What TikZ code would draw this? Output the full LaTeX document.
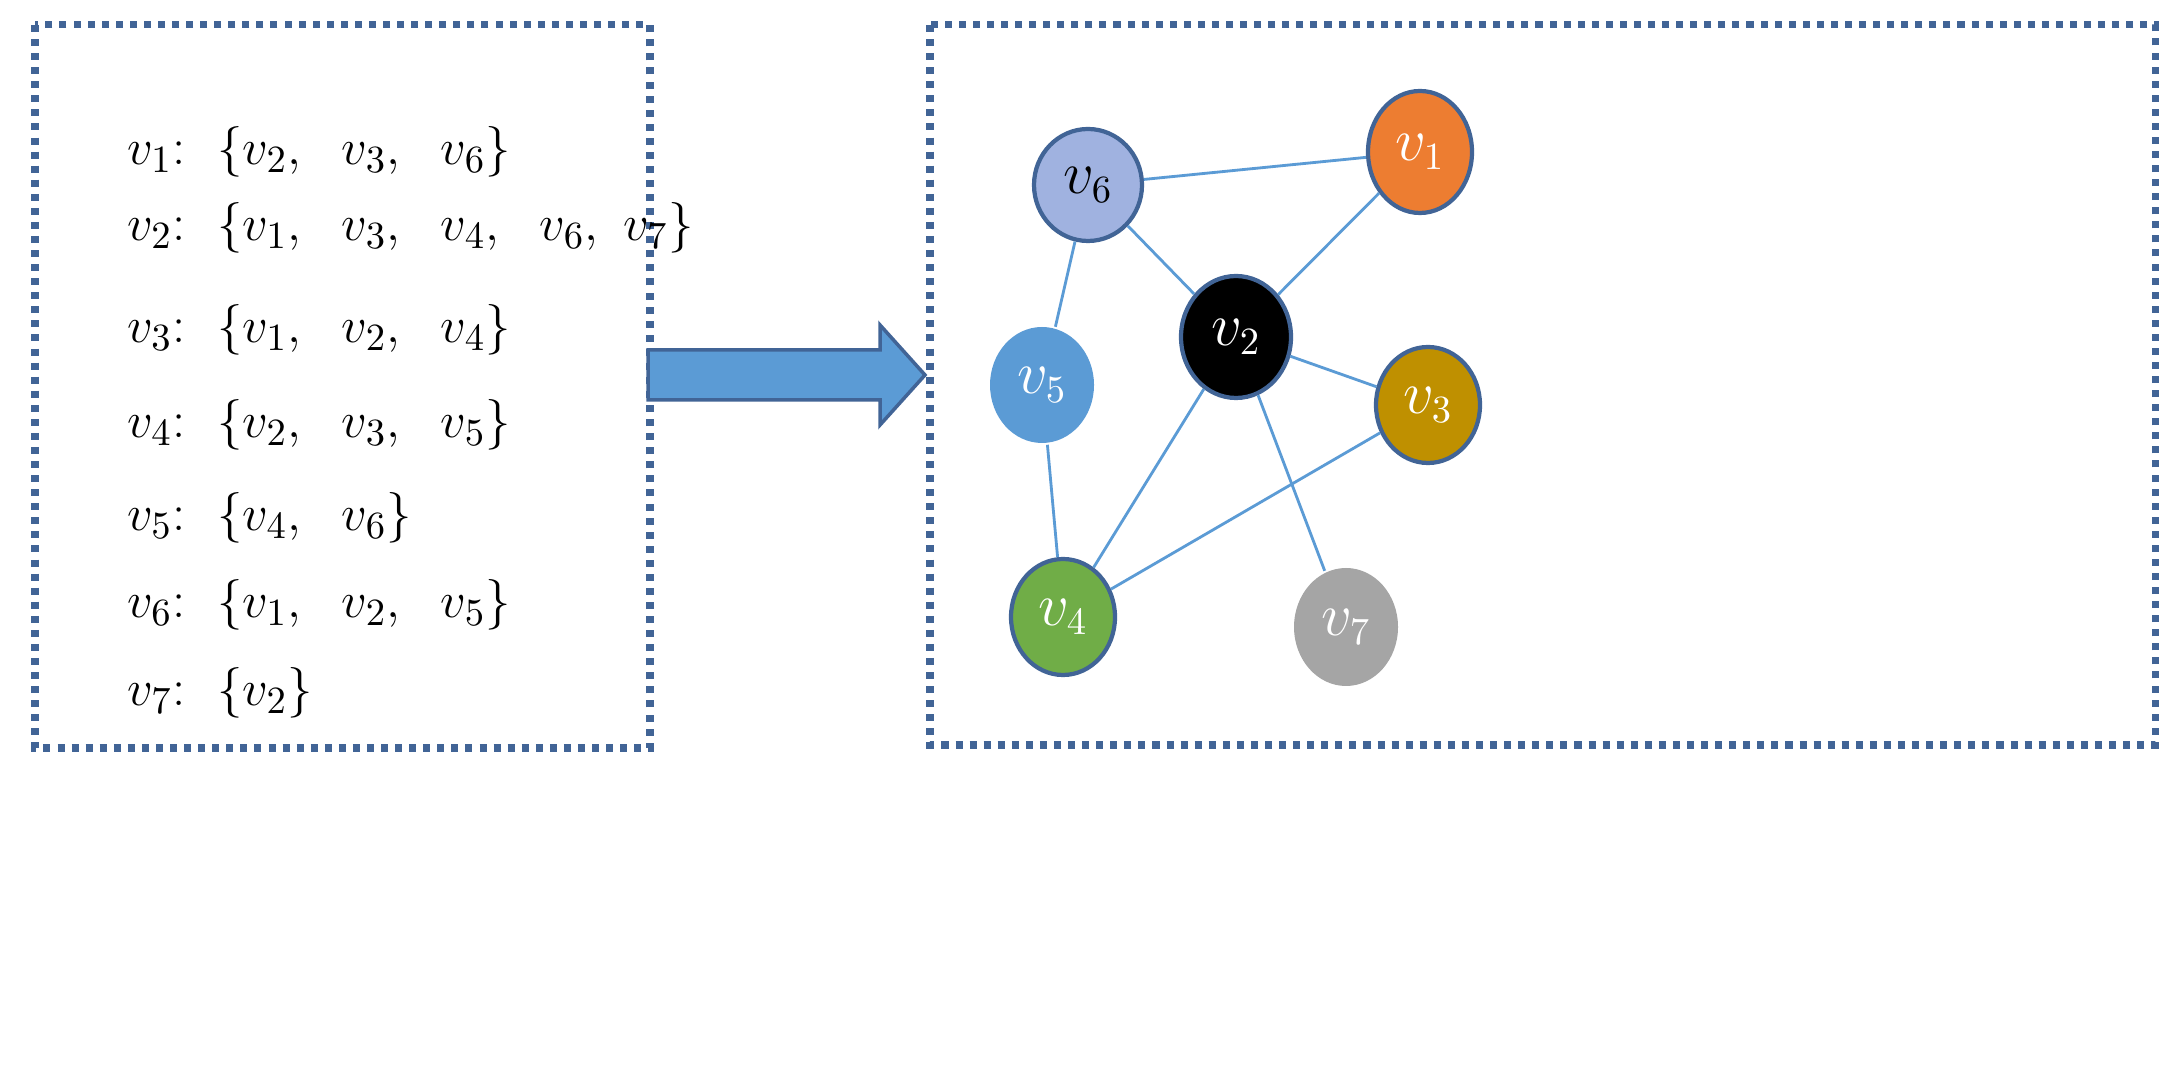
\documentclass[tikz,border=0pt]{standalone}
\usetikzlibrary{shapes.geometric}
\definecolor{bd}{RGB}{65,100,150}
\definecolor{ed}{RGB}{91,155,213}
\definecolor{c6}{RGB}{160,178,224}
\definecolor{c1}{RGB}{237,125,49}
\definecolor{c5}{RGB}{91,155,213}
\definecolor{c3}{RGB}{191,144,0}
\definecolor{c4}{RGB}{112,173,71}
\definecolor{c7}{RGB}{165,165,165}
\begin{document}
\begin{tikzpicture}[x=0.01cm,y=-0.01cm,
 frame/.style={draw=bd,dotted,line width=2pt},
 ln/.style={font=\fontsize{15}{18}\selectfont,anchor=west},
 vx/.style={ellipse,draw=bd,line width=1.2pt,text=white,inner sep=0pt,font=\fontsize{16}{20}\selectfont},
 ed/.style={draw=ed,line width=0.8pt}]
\fill[white] (0,0) rectangle (2182,1074);
\useasboundingbox (0,0) rectangle (2182,1074);
\draw[frame] (35,25) rectangle (650,748);
\draw[frame] (930,25) rectangle (2155,745);
\node[ln] (l1) at (115,152) {$v_1$:\ \ $\{v_2,\ \ v_3,\ \ v_6\}$};
\node[ln] (l2) at (115,228) {$v_2$:\ \ $\{v_1,\ \ v_3,\ \ v_4,\ \ v_6,\ v_7\}$};
\node[ln] (l3) at (115,330) {$v_3$:\ \ $\{v_1,\ \ v_2,\ \ v_4\}$};
\node[ln] (l4) at (115,425) {$v_4$:\ \ $\{v_2,\ \ v_3,\ \ v_5\}$};
\node[ln] (l5) at (115,518) {$v_5$:\ \ $\{v_4,\ \ v_6\}$};
\node[ln] (l6) at (115,605) {$v_6$:\ \ $\{v_1,\ \ v_2,\ \ v_5\}$};
\node[ln] (l7) at (115,693) {$v_7$:\ \ $\{v_2\}$};
\draw[draw=bd,fill=c5,line width=1pt] (648,350) -- (880,350) -- (880,325) -- (925,375) -- (880,425) -- (880,400) -- (648,400) -- cycle;
\node[vx,fill=c6,text=black,minimum width=108*0.01cm,minimum height=112*0.01cm] (v6) at (1088,185) {$v_6$};
\node[vx,fill=c1,minimum width=104*0.01cm,minimum height=122*0.01cm] (v1) at (1420,152) {$v_1$};
\node[vx,fill=black,minimum width=110*0.01cm,minimum height=122*0.01cm] (v2) at (1236,337) {$v_2$};
\node[vx,fill=c5,draw=none,minimum width=104*0.01cm,minimum height=116*0.01cm] (v5) at (1042,385) {$v_5$};
\node[vx,fill=c3,minimum width=104*0.01cm,minimum height=116*0.01cm] (v3) at (1428,405) {$v_3$};
\node[vx,fill=c4,minimum width=104*0.01cm,minimum height=116*0.01cm] (v4) at (1063,617) {$v_4$};
\node[vx,draw=none,fill=c7,minimum width=104*0.01cm,minimum height=118*0.01cm] (v7) at (1346,627) {$v_7$};
\draw[ed] (v6)--(v1); \draw[ed] (v6)--(v2); \draw[ed] (v6)--(v5);
\draw[ed] (v1)--(v2); \draw[ed] (v2)--(v3); \draw[ed] (v2)--(v4);
\draw[ed] (v2)--(v7); \draw[ed] (v5)--(v4); \draw[ed] (v4)--(v3);
\end{tikzpicture}
\end{document}
